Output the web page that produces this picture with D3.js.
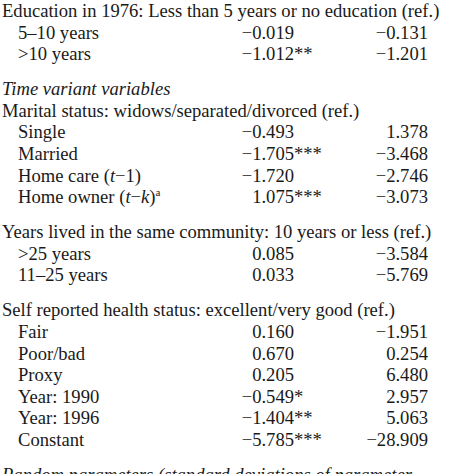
<!DOCTYPE html>
<html>
<head>
<meta charset="utf-8">
<script src="https://cdn.jsdelivr.net/npm/d3@7"></script>
<style>
  body { margin: 0; background: #fff; }
  text { font-family: "Liberation Serif", "Times New Roman", serif; font-size: 18.6px; fill: #1a1a1a; }
</style>
</head>
<body>
<div class="chart"></div>
<script>
// table content
var labels = [
  "Education in 1976: Less than 5 years or no education (ref.)",
  "5\u201310 years", ">10 years", "",
  "Time variant variables",
  "Marital status: widows/separated/divorced (ref.)",
  "Single", "Married", "Home care (t\u22121)", "Home owner (t\u2212k)", "",
  "Years lived in the same community: 10 years or less (ref.)",
  ">25 years", "11\u201325 years", "",
  "Self reported health status: excellent/very good (ref.)",
  "Fair", "Poor/bad", "Proxy", "Year: 1990", "Year: 1996", "Constant", "",
  "Random parameters (standard deviations of parameter"
];
var kinds = ["head","sub","sub","gap","ital","head","sub","sub","sub","sub","gap","head","sub","sub","gap","head","sub","sub","sub","sub","sub","sub","gap","ital"];
var col1 = [null,"\u22120.019","\u22121.012",null,null,null,"\u22120.493","\u22121.705","\u22121.720","1.075",null,null,"0.085","0.033",null,null,"0.160","0.670","0.205","\u22120.549","\u22121.404","\u22125.785",null,null];
var stars = [null,"","**",null,null,null,"","***","","***",null,null,"","",null,null,"","","","*","**","***",null,null];
var col2 = [null,"\u22120.131","\u22121.201",null,null,null,"1.378","\u22123.468","\u22122.746","\u22123.073",null,null,"\u22123.584","\u22125.769",null,null,"\u22121.951","0.254","6.480","2.957","5.063","\u221228.909",null,null];

var svgWidth = 474, svgHeight = 474;
var rowH = 21.6, gapH = 13.4;

var svg = d3.select(".chart").append("svg")
  .attr("width", svgWidth).attr("height", svgHeight);

// cumulative row positions in "slot" units
var pos = [], acc = 0;
kinds.forEach(function(k) {
  if (k === "gap") { acc += gapH / rowH; pos.push(null); }
  else { pos.push(acc); acc += 1; }
});
var y = d3.scaleLinear().domain([0, 1]).range([17, 17 + rowH]);
var x = d3.scaleOrdinal().domain(["head", "ital", "sub", "c1", "c2"]).range([2, 2, 18, 294, 428]);

var rows = labels.map(function(l, i) {
  return { label: l, kind: kinds[i], v1: col1[i], s: stars[i], v2: col2[i], p: pos[i] };
}).filter(function(d) { return d.kind !== "gap"; });

var g = svg.selectAll("g.row").data(rows).enter().append("g")
  .attr("transform", function(d) { return "translate(0," + y(d.p) + ")"; });

g.append("text")
  .attr("x", function(d) { return x(d.kind); })
  .style("font-style", function(d) { return d.kind === "ital" ? "italic" : "normal"; })
  .each(function(d) {
    var t = d3.select(this);
    var m = d.label.match(/^(.*\()(t)(\u2212)(1|k)(\).*)$/);
    if (m) {
      t.append("tspan").text(m[1]);
      t.append("tspan").style("font-style", "italic").text(m[2]);
      t.append("tspan").text(m[3]);
      t.append("tspan").style("font-style", m[4] === "k" ? "italic" : "normal").text(m[4]);
      t.append("tspan").text(m[5]);
      if (m[4] === "k") t.append("tspan").attr("dy", -7).style("font-size", "11px").text("a");
    } else t.text(d.label);
  });

g.filter(function(d) { return d.v1; }).append("text")
  .attr("x", x("c1")).attr("text-anchor", "end").text(function(d) { return d.v1; });
g.filter(function(d) { return d.s; }).append("text")
  .attr("x", x("c1")).text(function(d) { return d.s; });
g.filter(function(d) { return d.v2; }).append("text")
  .attr("x", x("c2")).attr("text-anchor", "end").text(function(d) { return d.v2; });
</script>
</body>
</html>
